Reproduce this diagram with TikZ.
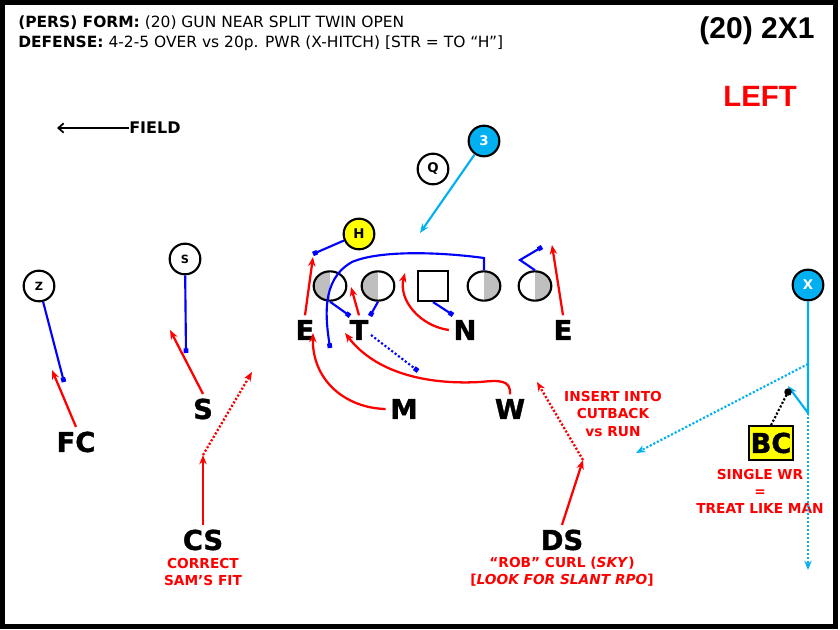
\documentclass[tikz,border=0pt]{standalone}
\usepackage{fontspec}
\setmainfont{DejaVu Sans}
\newfontfamily\arialf{Liberation Sans}
\newfontfamily\heavyf{DejaVu Sans}[BoldFeatures={FakeBold=1.4}]
\usetikzlibrary{arrows.meta,shapes.geometric}
\definecolor{myred}{RGB}{255,0,0}
\definecolor{myblue}{RGB}{0,0,255}
\definecolor{mycyan}{RGB}{0,176,240}
\definecolor{mygray}{RGB}{191,191,191}
\definecolor{myyellow}{RGB}{255,255,0}
\begin{document}
\begin{tikzpicture}[x=0.75pt,y=-0.75pt,
 plyr/.style={circle,draw,line width=1.6pt,minimum size=23pt,inner sep=0pt,font=\bfseries\fontsize{10}{10}\selectfont},
 smallplyr/.style={plyr,font=\bfseries\fontsize{8.5}{8.5}\selectfont},
 oline/.style={ellipse,draw,line width=1.6pt,minimum width=24.5pt,minimum height=22pt,inner sep=0pt},
 lgray/.style={path picture={\fill[mygray] (path picture bounding box.north west) rectangle (path picture bounding box.south);}},
 rgray/.style={path picture={\fill[mygray] (path picture bounding box.north) rectangle (path picture bounding box.south east);}},
 big/.style={font=\heavyf\bfseries\fontsize{20.5}{20.5}\selectfont},
 note/.style={text=myred,font=\bfseries\fontsize{10.3}{12.8}\selectfont,align=center},
 redarr/.style={myred,line width=1.7pt,-{Stealth[length=7pt,width=5.5pt]}},
 reddot/.style={redarr,dash pattern=on 1.6pt off 1.4pt},
 bluel/.style={myblue,line width=1.6pt,-{Square[length=3.5pt,width=3.5pt]}},
 bluedot/.style={bluel,dash pattern=on 1.6pt off 1.6pt},
 cyanarr/.style={mycyan,line width=1.6pt,-{Stealth[length=7pt,width=5.5pt]}},
 cyandot/.style={cyanarr,dash pattern=on 1.6pt off 1.4pt},
]
\useasboundingbox (0,0) rectangle (840,630);
\draw[line width=3.75pt] (2.5,2.5) rectangle (835,627);

% header
\node[anchor=base west,inner sep=0pt,font=\fontsize{11.6}{11.6}\selectfont] (hd1) at (18,28) {\textbf{(PERS) FORM:} (20) GUN NEAR SPLIT TWIN OPEN};
\node[anchor=base west,inner sep=0pt,font=\fontsize{11.6}{11.6}\selectfont] (hd2) at (18,48) {\textbf{DEFENSE:} 4-2-5 OVER vs 20p. PWR (X-HITCH) [STR = TO “H”]};
\node[font=\arialf\bfseries\fontsize{22.5}{22.5}\selectfont] (form) at (757,31) {(20) 2X1};
\node[font=\arialf\bfseries\fontsize{22}{22}\selectfont,text=myred] (left) at (760,96) {LEFT};

% field arrow
\node[anchor=west,inner sep=0pt,font=\bfseries\fontsize{12}{12}\selectfont] (field) at (129,128) {FIELD};
\coordinate (fieldEnd) at (57,128);
\draw[line width=1.3pt,-{Straight Barb[length=4pt,width=7pt]}] (field.west) -- (fieldEnd);

% offense
\node[smallplyr] (Z) at (39,286) {Z};
\node[smallplyr] (Sw) at (185,259) {S};
\node[plyr] (Q) at (433,169) {Q};
\node[plyr,fill=mycyan,text=white] (three) at (484,141) {3};
\node[plyr,fill=myyellow] (H) at (359,234) {H};
\node[plyr,fill=mycyan,text=white] (X) at (808,285) {X};
\node[oline,lgray] (o1) at (330,286) {};
\node[oline,lgray] (o2) at (378,286) {};
\node[draw,line width=1.6pt,minimum size=22.5pt,inner sep=0pt] (C) at (433,286) {};
\node[oline,rgray] (o4) at (484,286) {};
\node[oline,rgray] (o5) at (535,286) {};

% defense labels
\node[big] (E1) at (305,330) {E};
\node[big] (T) at (359,330) {T};
\node[big] (N) at (465,330) {N};
\node[big] (E2) at (563,330) {E};
\node[big] (M) at (404,409) {M};
\node[big] (W) at (510,409) {W};
\node[big] (FC) at (76,442) {FC};
\node[big] (S) at (203,409) {S};
\node[big] (CS) at (203,540) {CS};
\node[big] (DS) at (562,540) {DS};
\node[draw,line width=1.2pt,fill=myyellow,minimum width=33pt,minimum height=25.5pt,inner sep=0pt,big] (BC) at (771,443) {BC};

% notes
\node[note] (n1) at (613,414) {INSERT INTO\\CUTBACK\\vs RUN};
\node[note] (n2) at (760,491) {SINGLE WR\\=\\TREAT LIKE MAN};
\node[note] (n3) at (203,572) {CORRECT\\SAM’S FIT};
\node[note] (n4) at (562,572) {“ROB” CURL (\textit{SKY})\\{[}\textit{LOOK FOR SLANT RPO}{]}};

% blue routes
\coordinate (zEnd) at (64,382);
\coordinate (sEnd) at (186,353);
\coordinate (hEnd) at (313,254);
\coordinate (o1End) at (350,316);
\coordinate (o2End) at (370,316);
\coordinate (cEnd) at (453,315);
\coordinate (o4Top) at (484,258);
\coordinate (o4End) at (330,348);
\coordinate (o5Mid) at (520,260);
\coordinate (o5End) at (542,247);
\coordinate (tStart) at (371,335);
\coordinate (tEnd) at (418,371);
\draw[bluel] (Z) -- (zEnd);
\draw[bluel] (Sw) -- (sEnd);
\draw[bluel] (H) -- (hEnd);
\draw[bluel] (o1.south) -- (o1End);
\draw[bluel] (o2.south) -- (o2End);
\draw[bluel] (C.south) -- (cEnd);
\draw[bluel] (o4.north) -- (o4Top) .. controls (440,252) and (380,250) .. (352,262) .. controls (320,280) and (326,320) .. (o4End);
\draw[bluel] (o5.north) -- (o5Mid) -- (o5End);
\draw[bluedot] (tStart) -- (tEnd);

% red routes
\coordinate (e1End) at (313,257);
\coordinate (tArr) at (351,287);
\coordinate (nEnd) at (405,273);
\coordinate (e2End) at (552,245);
\coordinate (mEnd) at (313,333);
\coordinate (wEnd) at (345,333);
\coordinate (fcEnd) at (52,370);
\coordinate (sArr) at (170,330);
\coordinate (csMid) at (203,455);
\coordinate (csEnd) at (252,372);
\coordinate (dsMid) at (583,460);
\coordinate (dsEnd) at (537,382);
\draw[redarr] (E1.north) -- (e1End);
\draw[redarr] (T.north) -- (tArr);
\draw[redarr] (N.west) .. controls (420,326) and (398,300) .. (nEnd);
\draw[redarr] (E2.north) -- (e2End);
\draw[redarr] (M.west) .. controls (345,408) and (312,380) .. (mEnd);
\draw[redarr] (W.north) .. controls (511,380) and (500,380) .. (480,382) .. controls (425,385) and (375,372) .. (wEnd);
\draw[redarr] (FC.north) -- (fcEnd);
\draw[redarr] (S.north) -- (sArr);
\draw[redarr] (CS.north) -- (csMid);
\draw[reddot] (csMid) -- (csEnd);
\draw[redarr] (DS.north) -- (dsMid);
\draw[reddot] (dsMid) -- (dsEnd);

% cyan routes
\coordinate (threeEnd) at (420,233);
\coordinate (xBreak) at (808,413);
\coordinate (xArr) at (788,386);
\coordinate (xDotStart) at (808,364);
\coordinate (xDotEnd) at (636,453);
\coordinate (xDown) at (808,570);
\coordinate (bcDot) at (788,392);
\draw[cyanarr] (three) -- (threeEnd);
\draw[cyanarr] (X.south) -- (xBreak) -- (xArr);
\draw[cyandot] (xDotStart) -- (xDotEnd);
\draw[cyandot] (xBreak) -- (xDown);
\draw[line width=1.6pt,dash pattern=on 1.6pt off 1.4pt] (BC.north) -- (bcDot);
\fill (bcDot) circle (2.8pt);
\end{tikzpicture}
\end{document}
